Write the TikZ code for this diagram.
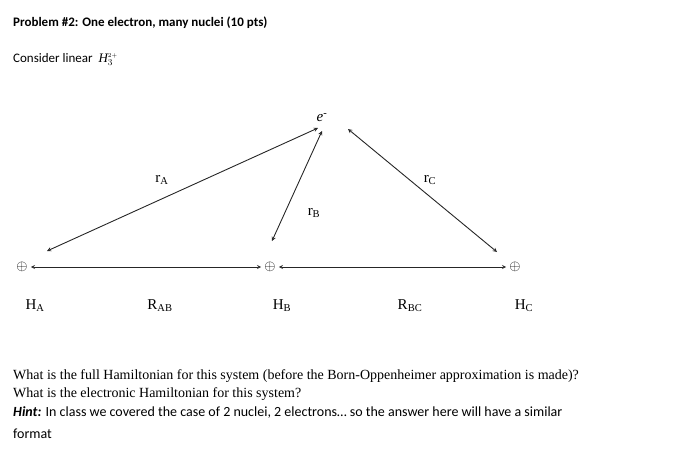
\documentclass[tikz,border=0pt]{standalone}
\usepackage{fontspec}
\setmainfont{Liberation Serif}
\newfontfamily\calfont{Carlito}
\begin{document}
\begin{tikzpicture}[x=1pt,y=-1pt,
  ar/.style={<->,>=stealth,line width=0.9pt,black!85},
  lab/.style={inner sep=0pt,font=\fontsize{15}{15}\selectfont},
  txt/.style={anchor=base west,inner sep=0pt}]
\useasboundingbox (0,0) rectangle (678,455);
\node[txt,font=\calfont\bfseries\fontsize{13}{13}\selectfont] (t) at (13,26) {Problem \#2: One electron, many nuclei (10 pts)};
\node[txt,font=\calfont\fontsize{13}{13}\selectfont] (c) at (13,62) {Consider linear \ $\mathit{H}_3^{\scriptscriptstyle 2+}$};
\node[lab] (e) at (322,118) {\textit{e}\textsuperscript{-}};
\node[lab] (pa) at (22,267) {$\oplus$};
\node[lab] (pb) at (270,267) {$\oplus$};
\node[lab] (pc) at (515,267) {$\oplus$};
\coordinate (ea) at (318,128);
\coordinate (eb) at (322,131);
\coordinate (ec) at (348,129);
\coordinate (a1) at (47,251);
\coordinate (b1) at (272,241);
\coordinate (c1) at (497,252);
\draw[ar] (ea) -- (a1);
\draw[ar] (eb) -- (b1);
\draw[ar] (ec) -- (c1);
\draw[ar] ([xshift=3pt]pa.east) -- ([xshift=-3pt]pb.west);
\draw[ar] ([xshift=3pt]pb.east) -- ([xshift=-3pt]pc.west);
\node[lab] (ra) at (162,180) {r\textsubscript{A}};
\node[lab] (rb) at (314,213) {r\textsubscript{B}};
\node[lab] (rc) at (430,180) {r\textsubscript{C}};
\node[lab] (ha) at (35,306) {H\textsubscript{A}};
\node[lab] (rab) at (160,306) {R\textsubscript{AB}};
\node[lab] (hb) at (282,306) {H\textsubscript{B}};
\node[lab] (rbc) at (410,306) {R\textsubscript{BC}};
\node[lab] (hc) at (524,306) {H\textsubscript{C}};
\begin{scope}[font=\fontsize{14}{14}\selectfont]
\node[txt] (q1) at (13,379) {What is the full Hamiltonian for this system (before the Born-Oppenheimer approximation is made)?};
\node[txt] (q2) at (13,397) {What is the electronic Hamiltonian for this system?};
\end{scope}
\node[txt,font=\calfont\fontsize{14}{14}\selectfont] (q3) at (13,416) {\textbf{\textit{Hint:}} In class we covered the case of 2 nuclei, 2 electrons\dots\ so the answer here will have a similar};
\node[txt,font=\calfont\fontsize{14}{14}\selectfont] (q4) at (13,438) {format};
\end{tikzpicture}
\end{document}
